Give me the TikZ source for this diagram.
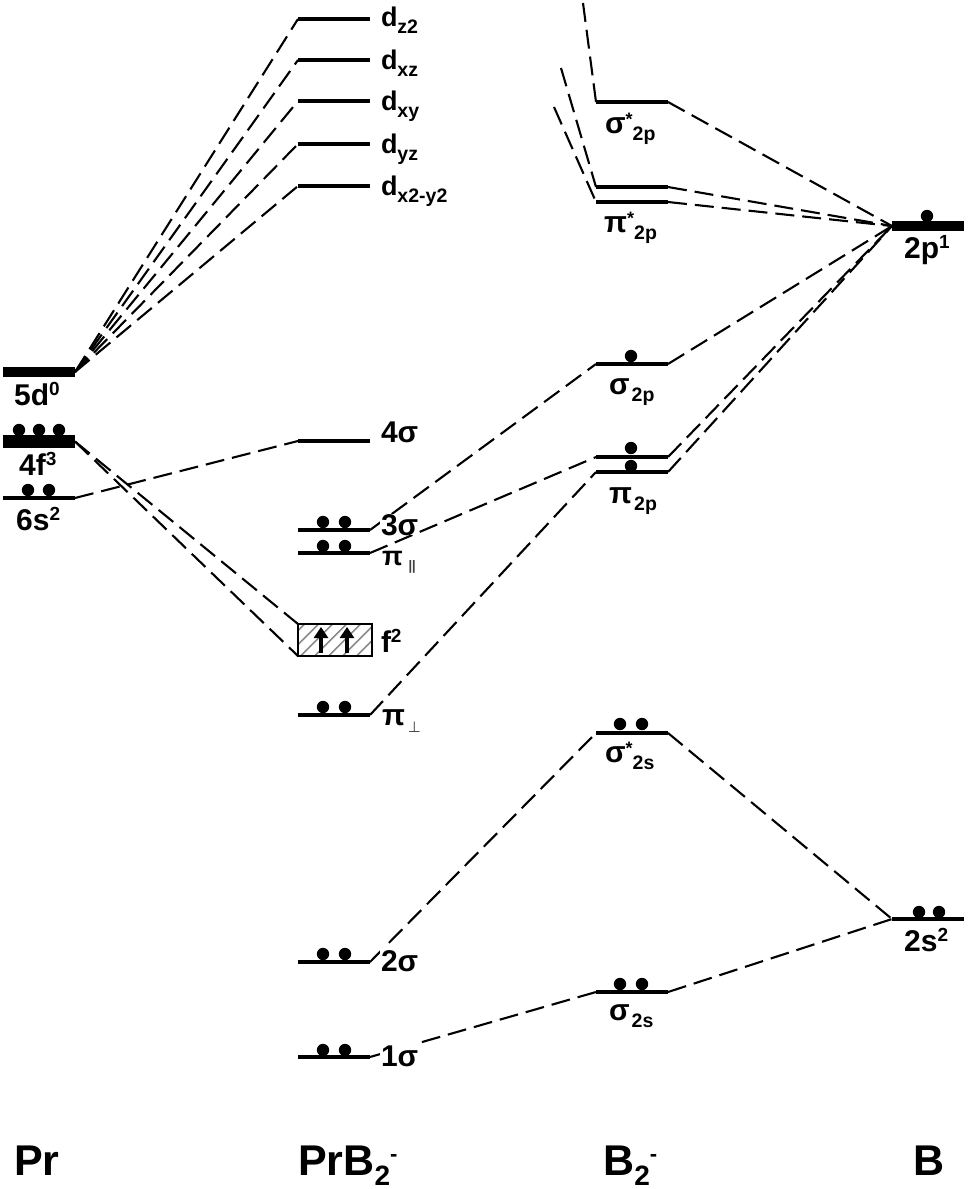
\documentclass[tikz,border=0pt]{standalone}
\usepackage{fontspec}
\setmainfont{Liberation Sans}
\newfontfamily\dejavu{DejaVu Sans}
\usetikzlibrary{arrows.meta,patterns.meta}
\newcommand{\subt}[1]{\raisebox{-7pt}{\fontsize{19.5}{20}\selectfont #1}}
\newcommand{\supt}[1]{\raisebox{10pt}{\fontsize{19}{19}\selectfont #1}}
\newcommand{\hsup}[1]{\raisebox{8pt}{\fontsize{18}{18}\selectfont #1}}
\newcommand{\tsub}{\raisebox{-10pt}{\fontsize{28}{28}\selectfont 2}\raisebox{14pt}{\fontsize{22}{22}\selectfont -}}
\tikzset{
  x=1pt,y=-1pt,
  lvl/.style={fill=black,inner sep=0pt,outer sep=0pt,minimum width=72pt,minimum height=#1},
  lvl/.default=4.5pt,
  conn/.style={draw=black,line width=2.1pt,dash pattern=on 19pt off 8pt},
  lab/.style={anchor=base west,inner xsep=1pt,inner ysep=2.5pt,outer sep=0pt,fill=white,font=\fontsize{30}{30}\selectfont\bfseries},
  labd/.style={anchor=base west,inner sep=1pt,outer sep=0pt,font=\fontsize{27}{27}\selectfont\bfseries},
  labn/.style={anchor=base west,inner sep=0pt,font=\fontsize{30}{30}\selectfont\bfseries},
  title/.style={anchor=base west,inner sep=0pt,font=\fontsize{43}{43}\selectfont\bfseries},
  dot/.style={fill=black},
  fbox/.style={draw=black,line width=1.6pt,inner sep=0pt,outer sep=0pt,minimum width=74pt,minimum height=32pt,
    pattern={Lines[angle=45,distance=10.5pt,line width=2pt]},pattern color=black!45}
}
\begin{document}
\begin{tikzpicture}
\useasboundingbox (0,0) rectangle (969,1189);
% Pr levels
\node[lvl=10pt] (d5) at (39,372) {};
\node[lvl=13pt] (f4) at (39,441.5) {};
\node[lvl=4pt] (s6) at (39,498) {};
% PrB2 levels
\node[lvl] (dz) at (334,19) {};
\node[lvl] (dxz) at (334,60) {};
\node[lvl] (dxy) at (334,101) {};
\node[lvl] (dyz) at (334,144) {};
\node[lvl] (dxx) at (334,186) {};
\node[lvl] (s4) at (334,441) {};
\node[lvl] (s3) at (334,530) {};
\node[lvl] (ppar) at (334,553) {};
\node[fbox] (fb) at (335,640) {};
\node[lvl] (pperp) at (334,715) {};
\node[lvl] (s2) at (334,962) {};
\node[lvl] (s1) at (334,1057) {};
% B2 levels
\node[lvl] (ssp) at (632,102) {};
\node[lvl] (ppa) at (632,187) {};
\node[lvl] (ppb) at (632,202) {};
\node[lvl] (sp) at (632,364) {};
\node[lvl] (pa) at (632,457) {};
\node[lvl] (pb) at (632,472) {};
\node[lvl] (sss) at (632,733) {};
\node[lvl] (ss) at (632,992) {};
% B levels
\node[lvl=10pt] (p2) at (928,226) {};
\node[lvl=4pt] (s2b) at (928,919) {};
% free ends
\coordinate (ea) at (583,3);
\coordinate (eb) at (561,68);
\coordinate (ec) at (554,107);
% connectors
\foreach \t in {dz,dxz,dxy,dyz,dxx} \draw[conn] (d5.east) -- (\t.west);
\draw[conn] (f4.east) -- (fb.north west);
\draw[conn] (f4.east) -- (fb.south west);
\draw[conn] (s6.east) -- (s4.west);
\draw[conn] (s3.east) -- (sp.west);
\draw[conn] (ppar.east) -- (pa.west);
\draw[conn] (pperp.east) -- (pb.west);
\draw[conn] (s2.east) -- (sss.west);
\draw[conn] (s1.east) -- (ss.west);
\draw[conn] (ea) -- (ssp.west);
\draw[conn] (eb) -- (ppa.west);
\draw[conn] (ec) -- (ppb.west);
\foreach \t in {ssp,ppa,ppb,sp,pa,pb} \draw[conn] (\t.east) -- (p2.west);
\draw[conn] (sss.east) -- (s2b.west);
\draw[conn] (ss.east) -- (s2b.west);
% electrons
\foreach \px/\py in {19/430,39/430,59/430,28/490,49/490,927/216,
  323/522,345/522,323/546,345/546,323/707,345/707,323/954,345/954,323/1050,345/1050,
  631/356,631/448,631/466,620/724,642/724,620/984,642/984,919/912,939/912}
  \fill[dot] (\px,\py) circle (6.2pt);
% f arrows
\foreach \px in {321,347}
  \draw[line width=4.4pt,-{Triangle[length=11pt,width=14pt]}] (\px,653) -- (\px,627);
% labels
\node[labn] (l5d) at (14,405) {5d\supt{0}};
\node[labn] (l4f) at (19,475) {4f\supt{3}};
\node[labn] (l6s) at (16,530) {6s\supt{2}};
\node[labd] (ldz) at (380,26) {d\subt{z2}};
\node[labd] (ldxz) at (380,69) {d\subt{xz}};
\node[labd] (ldxy) at (380,110) {d\subt{xy}};
\node[labd] (ldyz) at (380,153) {d\subt{yz}};
\node[labd] (ldxx) at (380,195) {d\subt{x2-y2}};
\node[lab] (l4s) at (380,442) {4σ};
\node[lab,inner ysep=0pt,font=\fontsize{27}{27}\selectfont\bfseries] (lpp) at (381,565) {π\kern4pt\raisebox{-5pt}{\mdseries\dejavu\fontsize{13}{13}\selectfont\color{black!75}\scalebox{1.7}[1]{∥}}};
\node[lab,inner ysep=0pt] (l3s) at (380,535) {3σ};
\node[lab] (lfb) at (380,652) {f\supt{2}};
\node[lab] (lpe) at (381,725) {π\kern3pt\raisebox{-7pt}{\mdseries\dejavu\fontsize{15}{15}\selectfont\color{black!75}⊥}};
\node[lab] (l2s) at (380,971) {2σ};
\node[lab] (l1s) at (380,1066) {1σ};
\node[labn] (lssp) at (605,133) {σ\hsup{*}\subt{2p}};
\node[labn] (lppb) at (604,232) {π\hsup{*}\subt{2p}};
\node[labn] (lsp) at (609,394) {σ\kern2pt\subt{2p}};
\node[labn] (lpb) at (609,503) {π\kern2pt\subt{2p}};
\node[labn] (lsss) at (605,762) {σ\hsup{*}\subt{2s}};
\node[labn] (lss) at (609,1020) {σ\kern2pt\subt{2s}};
\node[labn] (l2p) at (904,258) {2p\supt{1}};
\node[labn] (l2sb) at (904,951) {2s\supt{2}};
% titles
\node[title] (tpr) at (14,1175) {Pr};
\node[title] (tprb) at (298,1175) {PrB\tsub};
\node[title] (tb2) at (603,1175) {B\tsub};
\node[title] (tb) at (913,1175) {B};
\end{tikzpicture}
\end{document}
